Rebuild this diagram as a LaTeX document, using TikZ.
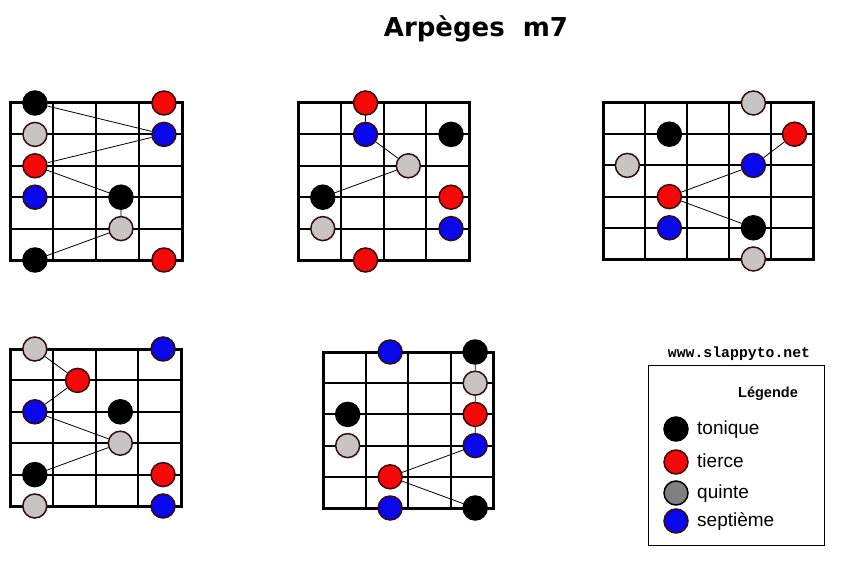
\documentclass[tikz,border=0pt]{standalone}
\usepackage{fontspec}
\setmainfont{Liberation Sans}
\newfontfamily\titrefont{DejaVu Sans}
\newfontfamily\sitefont{Liberation Mono}
\definecolor{grisclair}{RGB}{200,196,196}
\definecolor{grisfonce}{RGB}{128,128,128}
\definecolor{bordnote}{RGB}{55,12,12}
\definecolor{rouge}{RGB}{245,8,8}
\definecolor{bleu}{RGB}{8,8,235}

\begin{document}
\begin{tikzpicture}[x=1pt, y=-1pt,
    cadre/.style={line width=3pt},
    corde/.style={line width=2pt},
    lien/.style={line width=0.8pt},
    note/.style={circle, inner sep=0pt, minimum size=24pt, line width=1.5pt, draw=bordnote},
    tonique/.style={note, fill=black, draw=black},
    tierce/.style={note, fill=rouge},
    quinte/.style={note, fill=grisclair},
    septieme/.style={note, fill=bleu},
    quinteleg/.style={note, fill=grisfonce, draw=black}]
  \useasboundingbox (0,0) rectangle (850,577);

  \node[anchor=base] (titre) at (476,37) {\titrefont\bfseries\fontsize{26}{30}\selectfont Arpèges\ \ m7};

  % manche 1
  \begin{scope}[shift={(10,103)}, x=43pt, y=-31.4pt]
    \draw[cadre] (0,0) rectangle (4,5);
    \foreach \c in {1,2,3} \draw[corde] (\c,0) -- (\c,5);
    \foreach \r in {1,...,4} \draw[corde] (0,\r) -- (4,\r);
    \node[tonique]  (a00) at (0.58,0) {};
    \node[tierce]   (a03) at (3.58,0) {};
    \node[quinte]   (a10) at (0.58,1) {};
    \node[septieme] (a13) at (3.58,1) {};
    \node[tierce]   (a20) at (0.58,2) {};
    \node[septieme] (a30) at (0.58,3) {};
    \node[tonique]  (a32) at (2.58,3) {};
    \node[quinte]   (a42) at (2.58,4) {};
    \node[tonique]  (a50) at (0.58,5) {};
    \node[tierce]   (a53) at (3.58,5) {};
    \draw[lien] (a00) -- (a13) -- (a20) -- (a32) -- (a42) -- (a50);
  \end{scope}

  % manche 2
  \begin{scope}[shift={(298,103)}, x=42.75pt, y=-31.4pt]
    \draw[cadre] (0,0) rectangle (4,5);
    \foreach \c in {1,2,3} \draw[corde] (\c,0) -- (\c,5);
    \foreach \r in {1,...,4} \draw[corde] (0,\r) -- (4,\r);
    \node[tierce]   (b01) at (1.58,0) {};
    \node[septieme] (b11) at (1.58,1) {};
    \node[tonique]  (b13) at (3.58,1) {};
    \node[quinte]   (b22) at (2.58,2) {};
    \node[tonique]  (b30) at (0.58,3) {};
    \node[tierce]   (b33) at (3.58,3) {};
    \node[quinte]   (b40) at (0.58,4) {};
    \node[septieme] (b43) at (3.58,4) {};
    \node[tierce]   (b51) at (1.58,5) {};
    \draw[lien] (b01) -- (b11) -- (b22) -- (b30);
  \end{scope}

  % manche 3
  \begin{scope}[shift={(603,103)}, x=42pt, y=-31.2pt]
    \draw[cadre] (0,0) rectangle (5,5);
    \foreach \c in {1,...,4} \draw[corde] (\c,0) -- (\c,5);
    \foreach \r in {1,...,4} \draw[corde] (0,\r) -- (5,\r);
    \node[quinte]   (c03) at (3.58,0) {};
    \node[tonique]  (c11) at (1.58,1) {};
    \node[tierce]   (c14) at (4.56,1) {};
    \node[quinte]   (c20) at (0.58,2) {};
    \node[septieme] (c23) at (3.58,2) {};
    \node[tierce]   (c31) at (1.58,3) {};
    \node[septieme] (c41) at (1.58,4) {};
    \node[tonique]  (c43) at (3.58,4) {};
    \node[quinte]   (c53) at (3.58,5) {};
    \draw[lien] (c14) -- (c23) -- (c31) -- (c43);
  \end{scope}

  % manche 4
  \begin{scope}[shift={(10,349)}, x=42.75pt, y=-31.4pt]
    \draw[cadre] (0,0) rectangle (4,5);
    \foreach \c in {1,2,3} \draw[corde] (\c,0) -- (\c,5);
    \foreach \r in {1,...,4} \draw[corde] (0,\r) -- (4,\r);
    \node[quinte]   (d00) at (0.58,0) {};
    \node[septieme] (d03) at (3.58,0) {};
    \node[tierce]   (d11) at (1.58,1) {};
    \node[septieme] (d20) at (0.58,2) {};
    \node[tonique]  (d22) at (2.58,2) {};
    \node[quinte]   (d32) at (2.58,3) {};
    \node[tonique]  (d40) at (0.58,4) {};
    \node[tierce]   (d43) at (3.58,4) {};
    \node[quinte]   (d50) at (0.58,5) {};
    \node[septieme] (d53) at (3.58,5) {};
    \draw[lien] (d00) -- (d11) -- (d20) -- (d32) -- (d40);
  \end{scope}

  % manche 5
  \begin{scope}[shift={(323,352)}, x=42.5pt, y=-31.2pt]
    \draw[cadre] (0,0) rectangle (4,5);
    \foreach \c in {1,2,3} \draw[corde] (\c,0) -- (\c,5);
    \foreach \r in {1,...,4} \draw[corde] (0,\r) -- (4,\r);
    \node[septieme] (e01) at (1.58,0) {};
    \node[tonique]  (e03) at (3.58,0) {};
    \node[quinte]   (e13) at (3.58,1) {};
    \node[tonique]  (e20) at (0.58,2) {};
    \node[tierce]   (e23) at (3.58,2) {};
    \node[quinte]   (e30) at (0.58,3) {};
    \node[septieme] (e33) at (3.58,3) {};
    \node[tierce]   (e41) at (1.58,4) {};
    \node[septieme] (e51) at (1.58,5) {};
    \node[tonique]  (e53) at (3.58,5) {};
    \draw[lien] (e03) -- (e13) -- (e23) -- (e33) -- (e41) -- (e53);
  \end{scope}

  % legende
  \node[anchor=base] (site) at (739,357) {\sitefont\bfseries\fontsize{14.8}{16}\selectfont www.slappyto.net};
  \draw[line width=0.9pt] (648,365) rectangle (824,545);
  \node[anchor=base west, inner sep=0pt] (entete) at (738,397) {\bfseries\fontsize{14.5}{16}\selectfont Légende};
  \foreach \genre/\texte/\y [count=\i] in {tonique/tonique/429, tierce/tierce/462, quinteleg/quinte/493, septieme/septième/521}{
    \node[\genre] (leg\i) at (676,\y) {};
    \node[anchor=base west, inner sep=0pt, font=\fontsize{19}{22}\selectfont] (txt\i) at (697,\y+5) {\texte};
  }
\end{tikzpicture}
\end{document}
